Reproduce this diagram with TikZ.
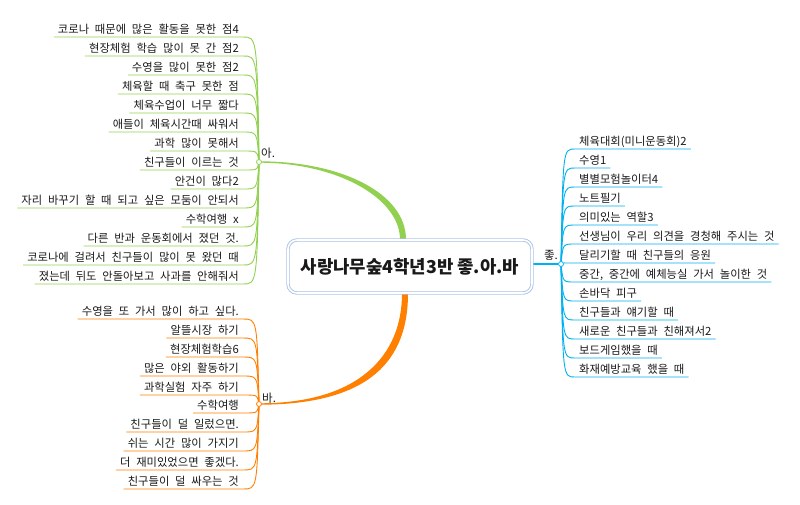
\documentclass[tikz,border=0pt]{standalone}
\usepackage{fontspec}
\setmainfont{Noto Sans CJK KR}
\usetikzlibrary{calc,backgrounds}
\definecolor{mapGreen}{RGB}{146,208,80}
\definecolor{mapOrange}{RGB}{255,128,0}
\definecolor{mapBlue}{RGB}{0,176,240}
\definecolor{hubRim}{RGB}{170,195,230}
\definecolor{mapText}{RGB}{25,25,25}

\begin{document}
\begin{tikzpicture}[x=1pt, y=-1pt,
    hub/.style={rectangle, rounded corners=9pt, draw=hubRim, double=white, double distance=1.6pt,
                fill=white, line width=0.9pt, minimum width=244pt, minimum height=53pt,
                font={\fontsize{17.8}{21}\selectfont\bfseries}, text=mapText},
    item/.style={inner xsep=4pt, inner ysep=1pt, text height=9pt, text depth=2pt, text=mapText,
                 font={\fontsize{11.3}{13}\selectfont\spaceskip=5.8pt\relax}},
    lft/.style={item, anchor=south east},
    rgt/.style={item, anchor=south west},
    tag/.style={inner sep=0pt, anchor=base west, text=mapText, font={\fontsize{11.5}{14}\selectfont}},
    jdot/.style={circle, draw, fill=white, inner sep=0pt, minimum size=5pt, line width=0.8pt},
    twig/.style={line width=0.9pt}]

  \useasboundingbox (0,0) rectangle (800,504);

  % centre topic
  \node[hub] (hub) at (410,266.5) {사랑나무숲4학년3반 좋.아.바};

  % branch junctions and their labels
  \node[jdot, draw=mapGreen] (aj) at (259,162) {};
  \node[jdot, draw=mapOrange] (bj) at (259,404) {};
  \node[jdot, draw=mapBlue] (cj) at (561,264) {};

  \node[tag] (atag) at (261,157) {아.};
  \node[tag] (btag) at (262,402) {바.};
  \node[tag, anchor=base east] (ctag) at (558,259) {좋.};

  % main branches
  \begin{scope}[on background layer]
    \fill[mapGreen] ($(aj.center)+(0,-0.7)$) .. controls +(83,0) and +(0,-46) .. ($(hub.north)+(-4,0)$)
      -- ($(hub.north)+(-10,0)$) .. controls +(0,-41) and +(79,0) .. ($(aj.center)+(0,0.7)$) -- cycle;
    \fill[mapOrange] ($(hub.south)+(-8,0)$) .. controls +(0,62) and +(100,0) .. ($(bj.center)+(0,-0.7)$)
      -- ($(bj.center)+(0,0.7)$) .. controls +(112,0) and +(0,66) .. ($(hub.south)+(-2,0)$) -- cycle;
    \draw[mapBlue, line width=1.5pt] (hub.east |- cj) -- (cj);
  \end{scope}

  % 아.
  \node[lft] (a1) at (243,37) {코로나 때문에 많은 활동을 못한 점4};
  \node[lft] (a2) at (243,56) {현장체험 학습 많이 못 간 점2};
  \node[lft] (a3) at (243,75) {수영을 많이 못한 점2};
  \node[lft] (a4) at (243,94) {체육할 때 축구 못한 점};
  \node[lft] (a5) at (243,113) {체육수업이 너무 짧다};
  \node[lft] (a6) at (243,132) {애들이 체육시간때 싸워서};
  \node[lft] (a7) at (243,151) {과학 많이 못해서};
  \node[lft] (a8) at (243,170) {친구들이 이르는 것};
  \node[lft] (a9) at (243,189) {안건이 많다2};
  \node[lft] (a10) at (243,208) {자리 바꾸기 할 때 되고 싶은 모둠이 안되서};
  \node[lft] (a11) at (243,227) {수학여행 x};
  \node[lft] (a12) at (243,246) {다른 반과 운동회에서 졌던 것.};
  \node[lft] (a13) at (243,265) {코로나에 걸려서 친구들이 많이 못 왔던 때};
  \node[lft] (a14) at (243,284) {졌는데 뒤도 안돌아보고 사과를 안해줘서};

  % 바.
  \node[lft] (b1) at (243,319) {수영을 또 가서 많이 하고 싶다.};
  \node[lft] (b2) at (243,338) {알뜰시장 하기};
  \node[lft] (b3) at (243,357) {현장체험학습6};
  \node[lft] (b4) at (243,376) {많은 야외 활동하기};
  \node[lft] (b5) at (243,395) {과학실험 자주 하기};
  \node[lft] (b6) at (243,413) {수학여행};
  \node[lft] (b7) at (243,432) {친구들이 덜 일렀으면.};
  \node[lft] (b8) at (243,451) {쉬는 시간 많이 가지기};
  \node[lft] (b9) at (243,470) {더 재미있었으면 좋겠다.};
  \node[lft] (b10) at (243,489) {친구들이 덜 싸우는 것};

  % 좋.
  \node[rgt] (c1) at (575,149) {체육대회(미니운동회)2};
  \node[rgt] (c2) at (575,168) {수영1};
  \node[rgt] (c3) at (575,187) {별별모험놀이터4};
  \node[rgt] (c4) at (575,206) {노트필기};
  \node[rgt] (c5) at (575,225) {의미있는 역할3};
  \node[rgt] (c6) at (575,244) {선생님이 우리 의견을 경청해 주시는 것};
  \node[rgt] (c7) at (575,263) {달리기할 때 친구들의 응원};
  \node[rgt] (c8) at (575,282) {중간, 중간에 예체능실 가서 놀이한 것};
  \node[rgt] (c9) at (575,301) {손바닥 피구};
  \node[rgt] (c10) at (575,320) {친구들과 얘기할 때};
  \node[rgt] (c11) at (575,339) {새로운 친구들과 친해져서2};
  \node[rgt] (c12) at (575,358) {보드게임했을 때};
  \node[rgt] (c13) at (575,377) {화재예방교육 했을 때};

  % twigs
  \foreach \i in {1,...,14}
    \draw[twig, mapGreen] (aj) .. controls ($(a\i.south east)+(14,0)$) .. (a\i.south east) -- (a\i.south west);
  \foreach \i in {1,...,10}
    \draw[twig, mapOrange] (bj) .. controls ($(b\i.south east)+(14,0)$) .. (b\i.south east) -- (b\i.south west);
  \foreach \i in {1,...,13}
    \draw[twig, mapBlue] (cj) .. controls ($(c\i.south west)+(-12,0)$) .. (c\i.south west) -- (c\i.south east);

\end{tikzpicture}
\end{document}
